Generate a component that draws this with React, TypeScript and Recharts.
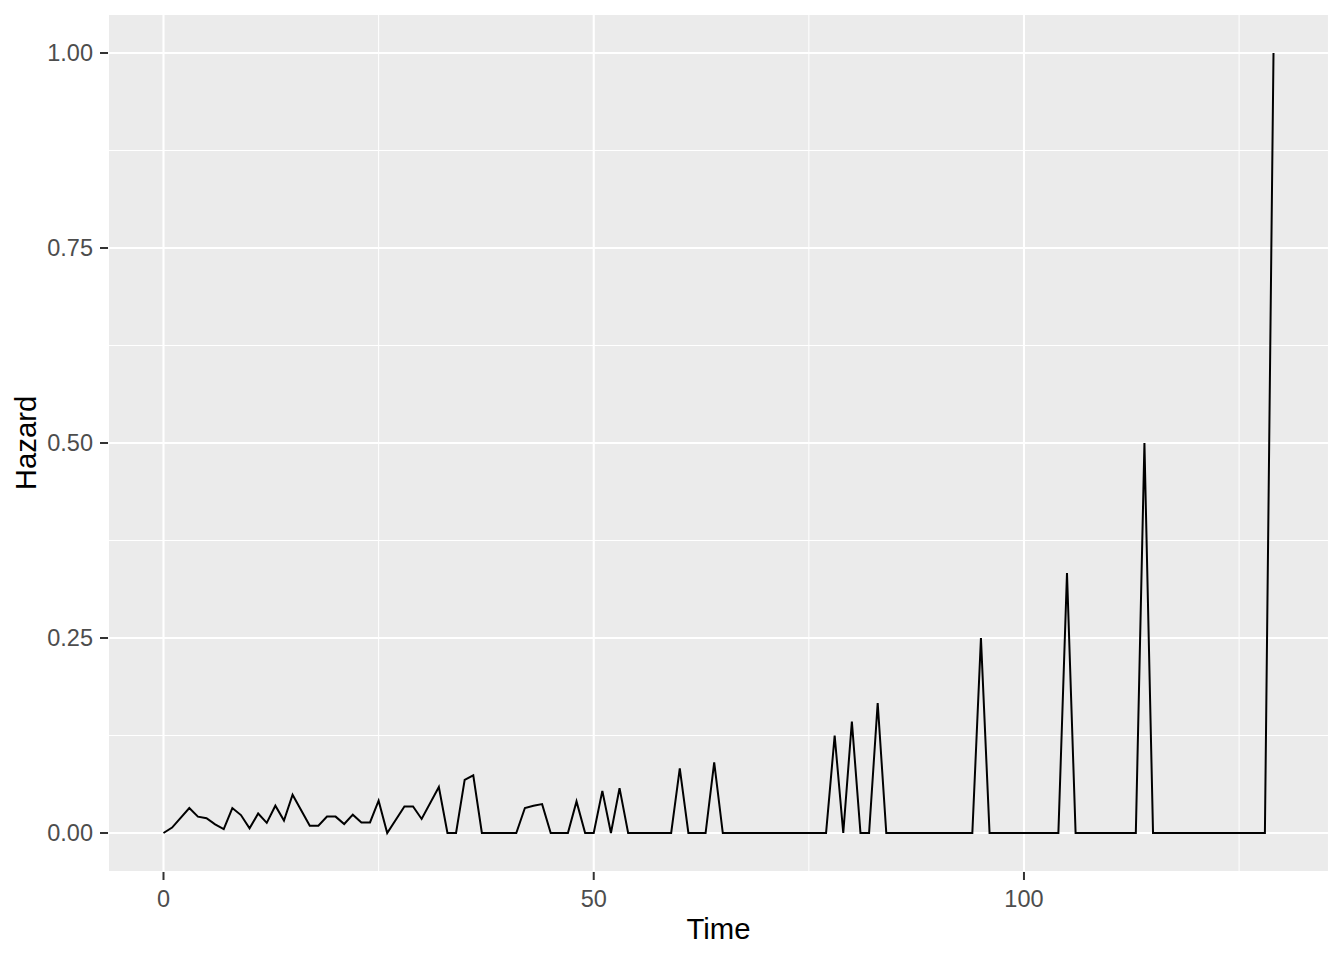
import React from 'react';
import { LineChart, Line, XAxis, YAxis, CartesianGrid, ReferenceLine } from 'recharts';

// time points where the hazard curve changes direction
const times = [
    0, 1, 3, 4, 5, 6, 7, 8, 9, 10, 11, 12, 13, 14, 15, 17, 18, 19, 20, 21,
    22, 23, 24, 25, 26, 28, 29, 30, 32, 33, 34, 35, 36, 37, 41, 42, 43, 44, 45, 47,
    48, 49, 50, 51, 52, 53, 54, 59, 60, 61, 63, 64, 65, 77, 78, 79, 80, 81, 82, 83,
    84, 94, 95, 96, 104, 105, 106, 113, 114, 115, 128, 129,
];

const hazards = [
    0, 0.007, 0.032, 0.021, 0.019, 0.011, 0.005, 0.032, 0.023, 0.006, 0.025, 0.013, 0.035, 0.016, 0.049, 0.0094, 0.0094, 0.021, 0.021, 0.0115,
    0.0235, 0.0135, 0.0135, 0.0415, 0, 0.034, 0.034, 0.018, 0.059, 0, 0, 0.068, 0.074, 0, 0, 0.032, 0.035, 0.037, 0, 0,
    0.0405, 0, 0, 0.054, 0, 0.0575, 0, 0, 0.083, 0, 0, 0.0905, 0, 0, 0.125, 0, 0.1429, 0, 0, 0.1667,
    0, 0, 0.25, 0, 0, 0.3333, 0, 0, 0.5, 0, 0, 1,
];

const xTicks = [0, 50, 100];
const xMinor = [25, 75, 125];
const yTicks = [0, 0.25, 0.5, 0.75, 1];
const yMinor = [0.125, 0.375, 0.625, 0.875];

const data = times.map((t, i) => ({ time: t, hazard: hazards[i] }));

const font = '"Liberation Sans", Arial, sans-serif';
const tickStyle = { fill: '#4D4D4D', fontSize: 23.5, fontFamily: font };

const HazardChart = () => {
    return (
        <div style={{ position: 'absolute', left: 0, top: 0, background: '#fff' }}>
            <LineChart width={1344} height={960} data={data} margin={{ top: 14, right: 15, bottom: 0, left: 0 }}>
                <CartesianGrid fill="#EBEBEB" stroke="#FFFFFF" strokeWidth={2.1} />
                {xMinor.map(v => <ReferenceLine key={'x' + v} x={v} stroke="#FFFFFF" strokeWidth={1} />)}
                {yMinor.map(v => <ReferenceLine key={'y' + v} y={v} stroke="#FFFFFF" strokeWidth={1} />)}
                <XAxis
                    dataKey="time"
                    type="number"
                    domain={[-6.45, 135.45]}
                    ticks={xTicks}
                    allowDataOverflow
                    height={88}
                    axisLine={false}
                    tickSize={8}
                    tickMargin={10}
                    tickLine={{ stroke: '#333333', strokeWidth: 2 }}
                    tick={tickStyle}
                    label={{ value: 'Time', position: 'insideBottom', offset: 21, fill: '#000', fontSize: 29.3, fontFamily: font }}
                />
                <YAxis
                    type="number"
                    domain={[-0.05, 1.05]}
                    ticks={yTicks}
                    allowDataOverflow
                    width={108}
                    axisLine={false}
                    tickSize={8}
                    tickMargin={7}
                    tickLine={{ stroke: '#333333', strokeWidth: 2 }}
                    tick={tickStyle}
                    tickFormatter={(v: number) => v.toFixed(2)}
                    label={{ value: 'Hazard', angle: -90, position: 'insideLeft', offset: 26, fill: '#000', fontSize: 29.3, fontFamily: font, style: { textAnchor: 'middle' } }}
                />
                <Line type="linear" dataKey="hazard" stroke="#000000" strokeWidth={2} dot={false} activeDot={false} isAnimationActive={false} />
            </LineChart>
        </div>
    );
}

export default HazardChart;
